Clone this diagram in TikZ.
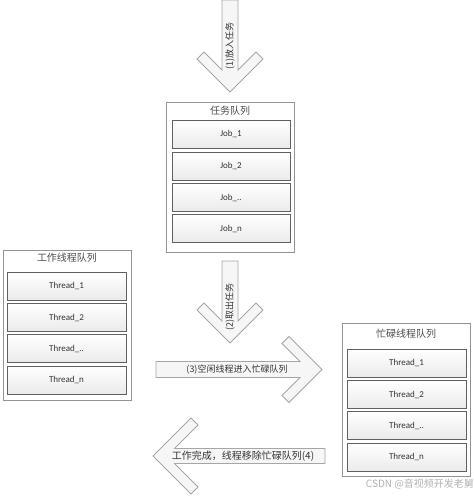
\documentclass[tikz,border=0pt]{standalone}
\usepackage{fontspec}
\setmainfont{Carlito}
\newfontfamily\cjk{Noto Sans CJK SC}
\begin{document}
\begin{tikzpicture}[x=1pt,y=-1pt,
  queuebox/.style={draw=gray!85,fill=white,line width=0.8pt,minimum width=128pt,inner sep=0pt},
  itembox/.style={draw=gray!75!black,top color=white,bottom color=gray!16,line width=1pt,minimum width=118pt,minimum height=28pt,inner sep=0pt,font=\fontsize{9}{10}\selectfont,text=black!80},
  qtitle/.style={font=\cjk\fontsize{10}{11}\selectfont,text=black!70},
  blockarrow/.style={draw=gray!70,fill=gray!7,line width=0.8pt,line join=miter},
  arrowtext/.style={font=\cjk\fontsize{9}{10}\selectfont,text=black!80,inner sep=0pt}]

\useasboundingbox (0,0) rectangle (474,496);

% (1) the arrow into the task queue
\draw[blockarrow] (222,0) -- (222,70) -- (204,52) -- (197,59) -- (230,92) -- (263,59) -- (256,52) -- (238,70) -- (238,0) -- cycle;
\node[arrowtext,rotate=90] (put) at (230,46) {(1)放入任务};

% the task queue
\node[queuebox,minimum height=150pt] (jobq) at (230,177) {};
\node[qtitle] (jobqtitle) at (230,111) {任务队列};
\node[itembox] (job1) at (231,134) {Job\_1};
\node[itembox] (job2) at (231,166) {Job\_2};
\node[itembox] (jobdots) at (231,197.5) {Job\_..};
\node[itembox] (jobn) at (231,228.5) {Job\_n};

% the idle thread queue
\node[queuebox,minimum height=150pt] (idleq) at (67,325) {};
\node[qtitle] (idleqtitle) at (67,258) {工作线程队列};
\node[itembox,minimum width=119pt] (idle1) at (66.5,286) {Thread\_1};
\node[itembox,minimum width=119pt] (idle2) at (66.5,317.5) {Thread\_2};
\node[itembox,minimum width=119pt] (idledots) at (66.5,348.5) {Thread\_..};
\node[itembox,minimum width=119pt] (idlen) at (66.5,380) {Thread\_n};

% (2) the arrow out of the task queue
\draw[blockarrow] (222,261) -- (222,321) -- (204,303) -- (197,310) -- (230,343) -- (263,310) -- (256,303) -- (238,321) -- (238,261) -- cycle;
\node[arrowtext,rotate=90] (take) at (230,307) {(2)取出任务};

% (3) the arrow into the busy queue
\draw[blockarrow] (156,361.5) -- (300,361.5) -- (282,343.5) -- (289,336.5) -- (322,369.5) -- (289,402.5) -- (282,395.5) -- (300,377.5) -- (156,377.5) -- cycle;
\node[arrowtext] (enter) at (237,369.5) {(3)空闲线程进入忙碌队列};

% the busy thread queue
\node[queuebox,minimum height=153pt] (busyq) at (406,399.5) {};
\node[qtitle] (busyqtitle) at (406,334) {忙碌线程队列};
\node[itembox,minimum width=119pt] (busy1) at (406.5,363) {Thread\_1};
\node[itembox,minimum width=119pt] (busy2) at (406.5,394.5) {Thread\_2};
\node[itembox,minimum width=119pt] (busydots) at (406.5,425.5) {Thread\_..};
\node[itembox,minimum width=119pt] (busyn) at (406.5,457) {Thread\_n};

% (4) the arrow out of the busy queue
\draw[blockarrow] (325,448.5) -- (174.5,448.5) -- (198,425) -- (191,418) -- (153,456) -- (191,494) -- (198,487) -- (174.5,463.5) -- (325,463.5) -- cycle;
\node[arrowtext,font=\cjk\fontsize{10}{11}\selectfont] (leave) at (243,456) {工作完成，线程移除忙碌队列(4)};

% watermark
\node[font=\cjk\fontsize{10}{11}\selectfont,text=gray!60,anchor=east,inner sep=0pt] (mark) at (474,484) {CSDN @音视频开发老舅};
\end{tikzpicture}
\end{document}
